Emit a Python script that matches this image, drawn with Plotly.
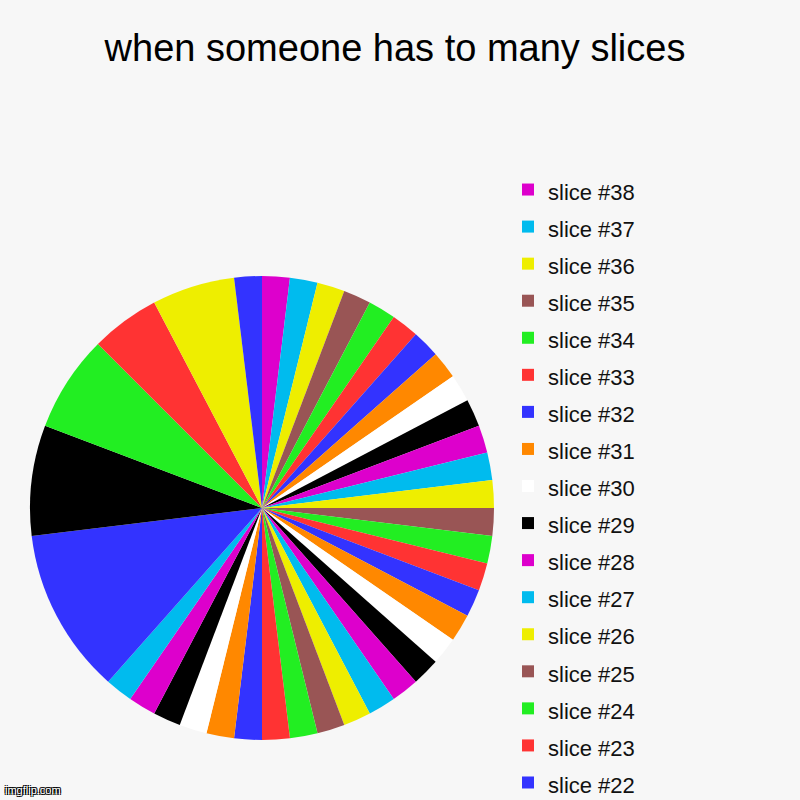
import plotly.graph_objects as go

# slices in the order they are drawn (clockwise from 12 o'clock)
slice_labels = [
    "slice #38", "slice #37", "slice #36", "slice #35", "slice #34", "slice #33",
    "slice #32", "slice #31", "slice #30", "slice #29", "slice #28", "slice #27",
    "slice #26", "slice #25", "slice #24", "slice #23", "slice #22", "slice #21",
    "slice #20", "slice #19", "slice #18", "slice #17", "slice #16", "slice #15",
    "slice #14", "slice #13", "slice #12", "slice #11", "slice #10", "slice #9",
    "slice #8", "slice #7", "slice #6", "slice #5", "slice #4", "slice #3",
    "slice #2", "slice #1",
]
slice_values = [
    1, 1, 1, 1, 1, 1, 1, 1, 1, 1,
    1, 1, 1, 1, 1, 1, 1, 1, 1, 1,
    1, 1, 1, 1, 1, 1, 1, 1, 1, 1,
    1, 1, 6, 4, 3.5, 2.5, 3, 1,
]
slice_color_names = [
    "magenta", "cyan", "yellow", "brown", "green", "red", "blue", "orange", "white", "black",
    "magenta", "cyan", "yellow", "brown", "green", "red", "blue", "orange", "white", "black",
    "magenta", "cyan", "yellow", "brown", "green", "red", "blue", "orange", "white", "black",
    "magenta", "cyan", "blue", "black", "green", "red", "yellow", "blue",
]

palette = {
    "blue": "#3333ff", "red": "#ff3333", "green": "#22ee22", "brown": "#995555",
    "yellow": "#eeee00", "cyan": "#00bbee", "magenta": "#dd00cc", "black": "#000000",
    "white": "#ffffff", "orange": "#ff8800",
}

W, H = 800, 800
bg = "#f7f7f7"

fig = go.Figure()
fig.add_trace(go.Pie(
    labels=[f'<span style="font-size:22px">{l}</span>' for l in slice_labels],
    values=slice_values,
    marker=dict(colors=[palette[c] for c in slice_color_names], line=dict(width=0)),
    sort=False,
    direction="clockwise",
    rotation=0,
    textinfo="none",
    hoverinfo="label+value",
    domain=dict(x=[30 / W, 494 / W], y=[1 - 740 / H, 1 - 276 / H]),
))

fig.update_layout(
    width=W, height=H,
    margin=dict(l=0, r=0, t=0, b=0, autoexpand=False),
    paper_bgcolor=bg, plot_bgcolor=bg,
    font=dict(family="Liberation Sans, Arial, sans-serif", color="#000"),
    title=dict(text="when someone has to many slices", x=395 / W, xanchor="center",
               y=1 - 48 / H, yanchor="middle", font=dict(size=38, color="#000")),
    legend=dict(x=508 / W, xanchor="left", y=1 - 166 / H, yanchor="top",
                font=dict(size=26.2, color="#111"), bgcolor="rgba(0,0,0,0)",
                maxheight=2000),
)

# watermark
fig.add_annotation(text="imgflip.com", x=3 / W, y=2 / H, xref="paper", yref="paper",
                   xanchor="left", yanchor="bottom", showarrow=False,
                   font=dict(size=11, color="white",
                             shadow="1px 1px 0 #000, -1px -1px 0 #000, 1px -1px 0 #000, -1px 1px 0 #000"))

# page body has a default margin; remove it so the figure fills the window
fig.write_html("out.html", config={"displayModeBar": False},
               post_script="document.body.style.margin='0';")
